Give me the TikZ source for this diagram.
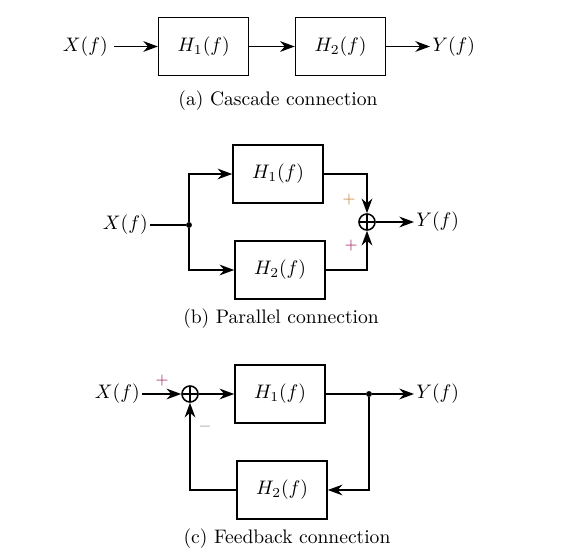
\documentclass[tikz,border=0pt]{standalone}
\usetikzlibrary{arrows.meta}
\definecolor{plusorange}{RGB}{200,130,60}
\definecolor{plusmag}{RGB}{160,40,100}
\definecolor{minusgray}{RGB}{150,150,150}
\begin{document}
\begin{tikzpicture}[x=0.511pt,y=-0.511pt,
  blk/.style={draw,line width=0.8pt,minimum width=46pt,minimum height=29.6pt,inner sep=0pt},
  sumnode/.style={draw,circle,line width=0.8pt,minimum size=8.2pt,inner sep=0pt,
    path picture={\draw[line width=0.6pt] (path picture bounding box.north)--(path picture bounding box.south) (path picture bounding box.west)--(path picture bounding box.east);}},
  sig/.style={inner sep=1pt},
  conn/.style={line width=0.7pt},
  arr/.style={conn,-{Stealth[length=7.5pt,width=5.5pt]}},
  dotnode/.style={circle,fill,inner sep=0pt,minimum size=3pt},
  captext/.style={inner sep=1pt},
  signlab/.style={inner sep=0pt,font=\footnotesize}
]
\useasboundingbox (0,0) rectangle (564,560);

% (a) cascade
\node[sig,anchor=east] (xa) at (110,46.5) {$X(f)$};
\node[blk] (h1a) at (203.7,46.5) {$H_1(f)$};
\node[blk] (h2a) at (340.5,46.5) {$H_2(f)$};
\node[sig,anchor=west] (ya) at (430,46.5) {$Y(f)$};
\draw[arr,shorten <=2pt] (xa.east) -- (h1a.west);
\draw[arr] (h1a.east) -- (h2a.west);
\draw[arr] (h2a.east) -- (ya.west);
\node[captext] (capa) at (278,101) {(a) Cascade connection};

% (b) parallel
\node[sig,anchor=east] (xb) at (150,225) {$X(f)$};
\node[dotnode] (jb) at (189,225) {};
\node[blk] (h1b) at (278,174) {$H_1(f)$};
\node[blk] (h2b) at (280,270) {$H_2(f)$};
\node[sumnode] (sb) at (367,222) {};
\node[sig,anchor=west] (yb) at (414,222) {$Y(f)$};
\draw[conn] (xb.east) -- (jb);
\draw[arr] (jb) |- (h1b.west);
\draw[arr] (jb) |- (h2b.west);
\draw[arr] (h1b.east) -| (sb.north);
\draw[arr] (h2b.east) -| (sb.south);
\draw[arr] (sb.east) -- (yb.west);
\node[signlab,text=plusorange] (pb1) at (349,200) {$+$};
\node[signlab,text=plusmag] (pb2) at (351,246) {$+$};
\node[captext] (capb) at (281,319) {(b) Parallel connection};

% (c) feedback
\node[sig,anchor=east] (xc) at (142,394) {$X(f)$};
\node[sumnode] (sc) at (190,394) {};
\node[blk] (h1c) at (280,394) {$H_1(f)$};
\node[dotnode] (jc) at (369,394) {};
\node[sig,anchor=west] (yc) at (414,394) {$Y(f)$};
\node[blk] (h2c) at (282,490) {$H_2(f)$};
\draw[arr] (xc.east) -- (sc.west);
\draw[arr] (sc.east) -- (h1c.west);
\draw[conn] (h1c.east) -- (jc);
\draw[arr] (jc) -- (yc.west);
\draw[arr] (jc) |- (h2c.east);
\draw[arr] (h2c.west) -| (sc.south);
\node[signlab,text=plusmag] (pc) at (162,381) {$+$};
\node[signlab,text=minusgray] (mc) at (205,427) {$-$};
\node[captext] (capc) at (287,539) {(c) Feedback connection};
\end{tikzpicture}
\end{document}
